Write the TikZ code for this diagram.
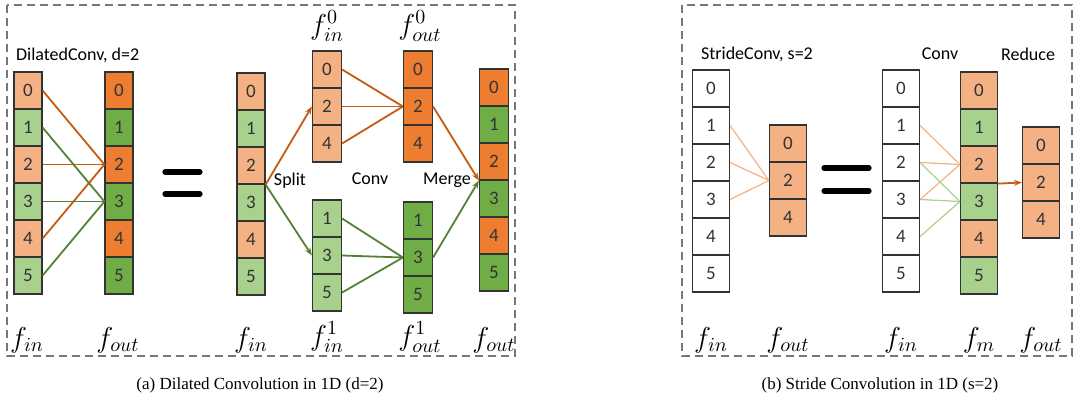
\documentclass[tikz,border=0pt]{standalone}
\usepackage{fontspec}
\setmainfont{Liberation Serif}
\newfontfamily\carl{Carlito}
\usetikzlibrary{arrows.meta}
\definecolor{lo}{HTML}{F4B183}\definecolor{do}{HTML}{ED7D31}
\definecolor{lg}{HTML}{A9D18E}\definecolor{dg}{HTML}{70AD47}
\definecolor{ol}{HTML}{C55A11}\definecolor{gl}{HTML}{548235}
\definecolor{ob}{HTML}{777777}
\tikzset{cell/.style={draw=black!80,line width=0.6pt,inner sep=0,minimum height=18.5pt,font=\carl\fontsize{9.5}{10}\selectfont,text=black!80},
 box/.style={draw=ob,line width=1pt,dash pattern=on 4pt off 2.5pt},
 lab/.style={font=\carl\fontsize{9}{10}\selectfont},
 flab/.style={font=\fontsize{14}{16}\selectfont},
 captxt/.style={font=\fontsize{8.5}{10}\selectfont},
 ao/.style={ol,line width=0.9pt},ag/.style={gl,line width=0.9pt},
 to/.style={lo,line width=0.6pt},tg/.style={lg,line width=0.6pt},
 arr/.style={-{Stealth[length=4pt]}},
 eq/.style={line width=2.6pt,line cap=round}}
\newcommand\cellcol[5]{\foreach \n/\c [count=\i from 0] in {#5}
 \node[cell,fill=\c,minimum width=#4*0.5pt] (#1\n) at (#2,{#3+18.5+37*\i}) {\n};}
\begin{document}
\begin{tikzpicture}[x=0.5pt,y=-0.5pt]
\useasboundingbox (0,0) rectangle (1080,401);
\draw[box] (7,5) rectangle (515,356);
\draw[box] (682,5) rectangle (1072,356);
% (a) left
\node[lab,anchor=west] (t1) at (9,55) {DilatedConv, d=2};
\cellcol{a}{28}{72}{28}{0/lo,1/lg,2/lo,3/lg,4/lo,5/lg}
\cellcol{b}{119}{72}{28}{0/do,1/dg,2/do,3/dg,4/do,5/dg}
\foreach \k in {0,2,4} \draw[ao] (a\k.east) -- (b2.west);
\foreach \k in {1,3,5} \draw[ag] (a\k.east) -- (b3.west);
\draw[eq] (165,172) -- (200,172) (165,194) -- (200,194);
\cellcol{c}{251}{73}{28}{0/lo,1/lg,2/lo,3/lg,4/lo,5/lg}
\cellcol{p}{327}{51}{29}{0/lo,2/lo,4/lo}
\cellcol{q}{418}{51}{29}{0/do,2/do,4/do}
\cellcol{r}{327}{200}{29}{1/lg,3/lg,5/lg}
\cellcol{s}{418}{202}{29}{1/dg,3/dg,5/dg}
\cellcol{e}{494}{69}{29}{0/do,1/dg,2/do,3/dg,4/do,5/dg}
\coordinate (cs) at (c2.south east);
\draw[ao,arr] (cs) -- (p2.west);
\draw[ag,arr] (cs) -- (r3.west);
\foreach \k in {0,2,4} \draw[ao] (p\k.east) -- (q2.west);
\foreach \k in {1,3,5} \draw[ag] (r\k.east) -- (s3.west);
\coordinate (em) at (e2.south west);
\draw[ao,arr] (q2.east) -- (em);
\draw[ag,arr] (s3.east) -- (em);
\node[lab] (sp) at (290,181) {Split};
\node[lab] (cv) at (370,179) {Conv};
\node[lab] (mg) at (447,180) {Merge};
\node[flab] (l1) at (27,340) {$f_{in}$};
\node[flab] (l2) at (118,340) {$f_{out}$};
\node[flab] (l3) at (251,340) {$f_{in}$};
\node[flab] (l4) at (327,337) {$f^1_{in}$};
\node[flab] (l5) at (420,337) {$f^1_{out}$};
\node[flab] (l6) at (494,340) {$f_{out}$};
\node[flab] (l7) at (327,26) {$f^0_{in}$};
\node[flab] (l8) at (420,26) {$f^0_{out}$};
\node[captxt] (ca) at (260,385) {(a) Dilated Convolution in 1D (d=2)};
% (b)
\node[lab,anchor=west] (t2) at (694,54) {StrideConv, s=2};
\cellcol{g}{711}{70}{37}{0/white,1/white,2/white,3/white,4/white,5/white}
\cellcol{h}{788}{125}{37}{0/lo,2/lo,4/lo}
\foreach \k in {1,2,3} \draw[to] (g\k.east) -- (h2.west);
\draw[eq] (824,168) -- (869,168) (824,191) -- (869,191);
\cellcol{i}{901}{70}{37}{0/white,1/white,2/white,3/white,4/white,5/white}
\cellcol{m}{979}{72}{37}{0/lo,1/lg,2/lo,3/lg,4/lo,5/lg}
\cellcol{o}{1041}{127}{37}{0/lo,2/lo,4/lo}
\foreach \k in {1,2,3} \draw[to] (i\k.east) -- (m2.west);
\foreach \k in {2,3,4} \draw[tg] (i\k.east) -- (m3.west);
\draw[ao,arr] (m2.south east) -- (o2.west);
\node[lab] (cv2) at (940,54) {Conv};
\node[lab] (rd) at (1028,54) {Reduce};
\node[flab] (m1) at (711,340) {$f_{in}$};
\node[flab] (m2l) at (788,340) {$f_{out}$};
\node[flab] (m3l) at (901,340) {$f_{in}$};
\node[flab] (m4l) at (979,340) {$f_{m}$};
\node[flab] (m5l) at (1041,340) {$f_{out}$};
\node[captxt] (cb) at (880,385) {(b) Stride Convolution in 1D (s=2)};
\end{tikzpicture}
\end{document}
